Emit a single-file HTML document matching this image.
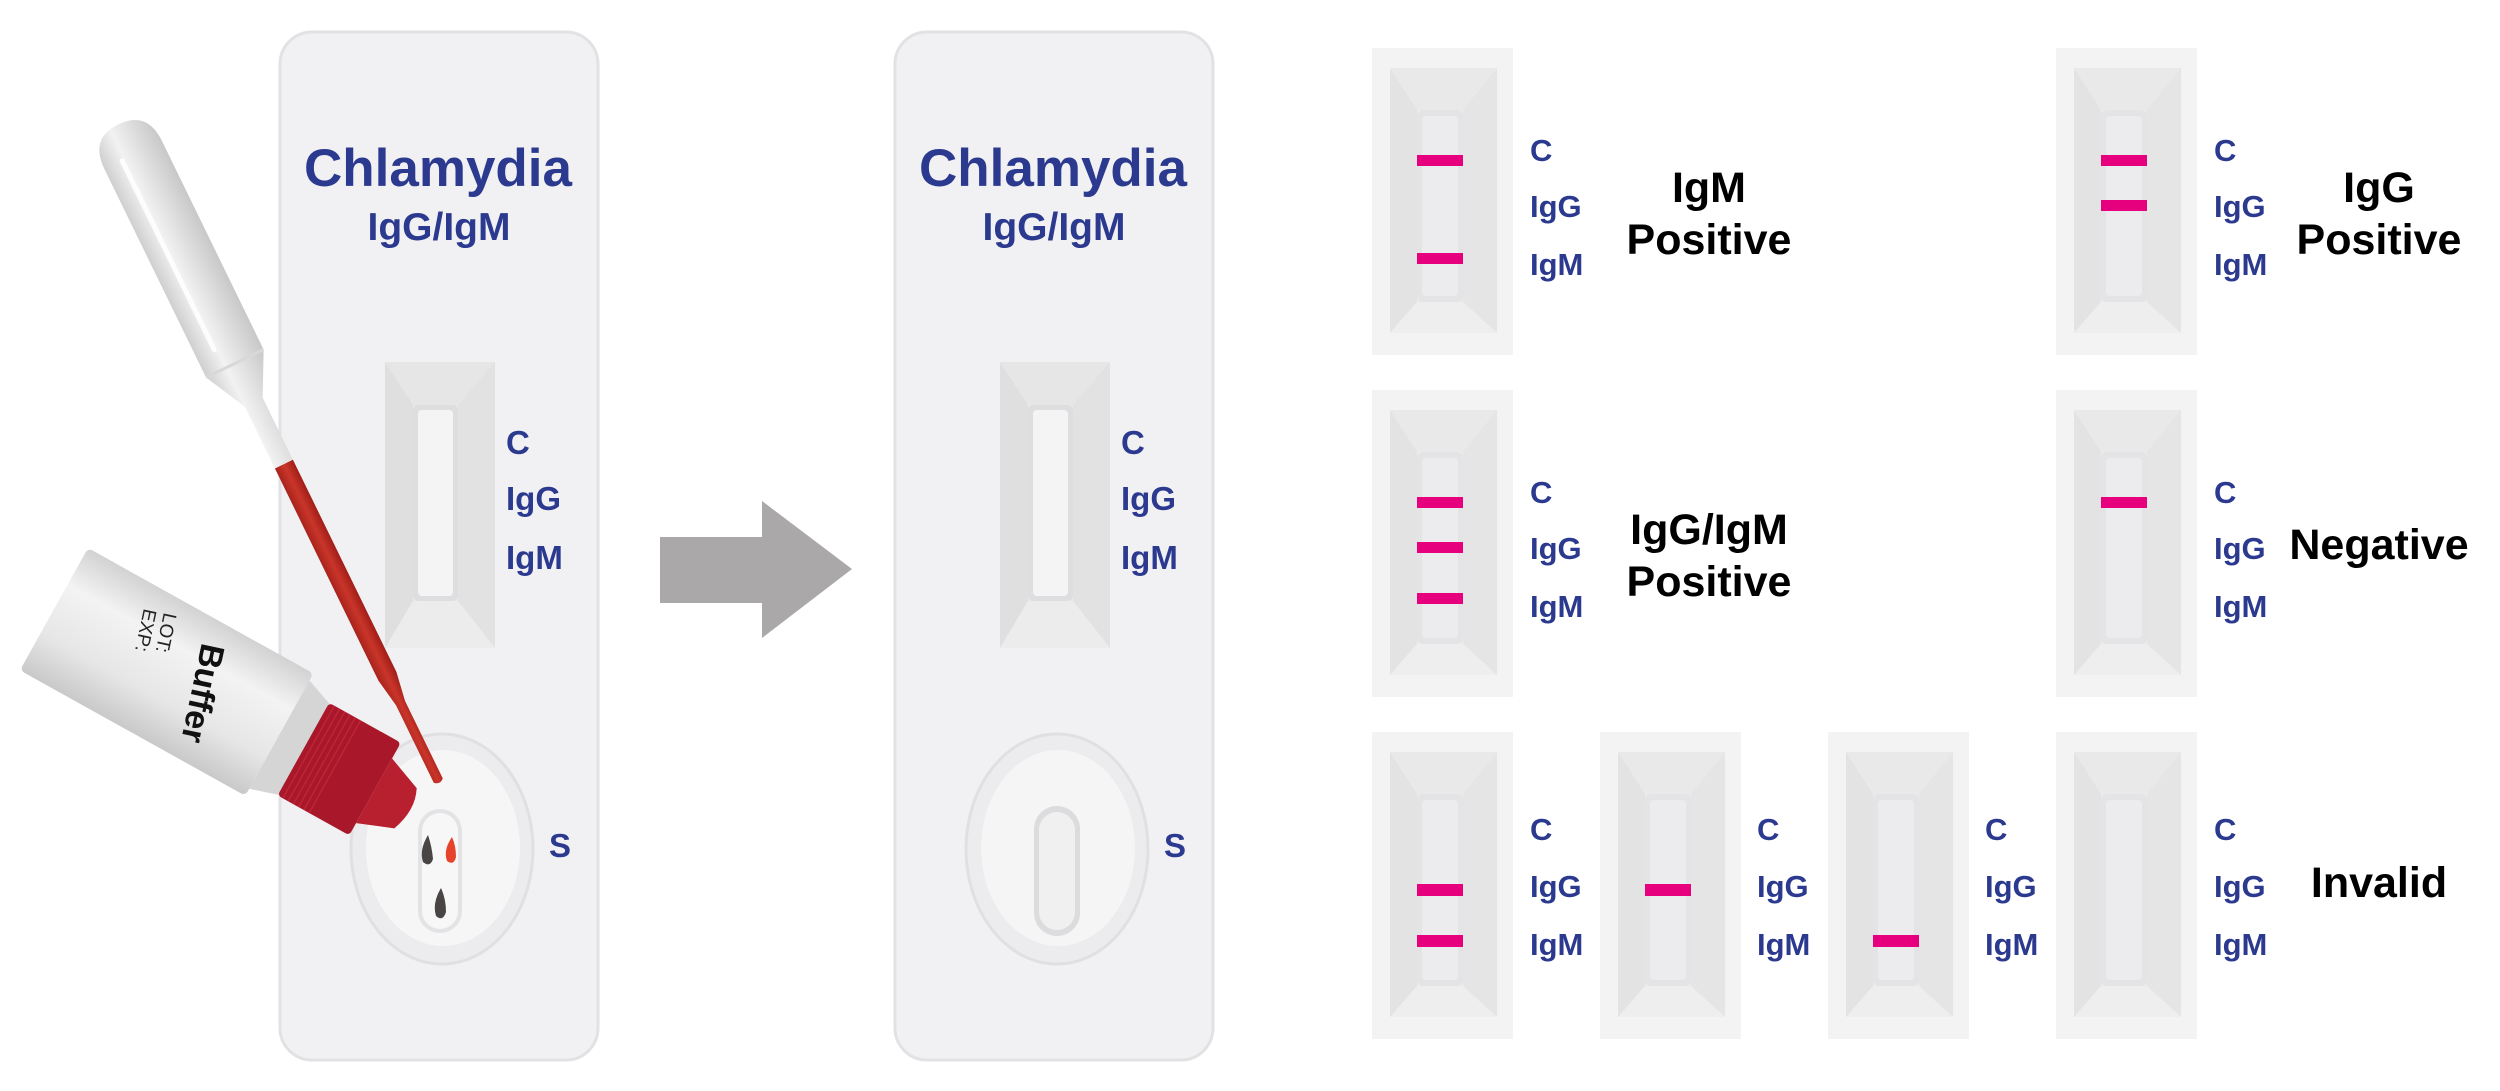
<!DOCTYPE html>
<html><head><meta charset="utf-8"><style>
html,body{margin:0;padding:0;background:#fff;}
svg{display:block;}
text{font-family:"Liberation Sans",Arial,sans-serif;font-weight:bold;}
.b{fill:#2b3a8f;}
.k{fill:#000;}
</style></head><body>
<svg width="2500" height="1091" viewBox="0 0 2500 1091" xmlns="http://www.w3.org/2000/svg">
<defs>
  <symbol id="sc" overflow="visible">
    <rect x="0" y="0" width="141" height="307" fill="#f3f3f4"/>
    <rect x="18" y="20" width="107" height="265" rx="6" fill="#ebebec"/>
    <polygon points="18,20 125,20 91,62 45,62" fill="#e9e9ea"/>
    <polygon points="18,20 45,62 45,254 18,285" fill="#e3e3e4"/>
    <polygon points="125,20 91,62 91,254 125,285" fill="#e5e5e6"/>
    <polygon points="18,285 45,254 91,254 125,285" fill="#eeeeef"/>
    <rect x="45" y="62" width="46" height="192" rx="6" fill="#e4e4e6"/>
    <rect x="50" y="68" width="36" height="180" rx="4" fill="#ececee"/>
  </symbol>
  <symbol id="bw" overflow="visible">
    <rect x="0" y="0" width="110" height="286" rx="4" fill="#e9e9ea"/>
    <polygon points="0,0 110,0 73,43 28,43" fill="#e6e6e7"/>
    <polygon points="0,0 28,43 28,239 0,286" fill="#dfdfe0"/>
    <polygon points="110,0 73,43 73,239 110,286" fill="#e2e2e3"/>
    <polygon points="0,286 28,239 73,239 110,286" fill="#ececed"/>
    <rect x="28" y="43" width="45" height="196" rx="5" fill="#dedee0"/>
    <rect x="33" y="48" width="35" height="186" rx="4" fill="#f4f4f5"/>
  </symbol>
  <linearGradient id="bulb" x1="0" x2="1" y1="0" y2="0">
    <stop offset="0" stop-color="#cfcfd0"/><stop offset="0.35" stop-color="#f2f2f2"/><stop offset="1" stop-color="#c8c8c9"/>
  </linearGradient>
  <linearGradient id="red" x1="0" x2="1" y1="0" y2="0">
    <stop offset="0" stop-color="#a8231c"/><stop offset="0.5" stop-color="#c9352a"/><stop offset="1" stop-color="#a01e18"/>
  </linearGradient>
  <linearGradient id="bot" x1="0" x2="0" y1="0" y2="1">
    <stop offset="0" stop-color="#d2d2d3"/><stop offset="0.3" stop-color="#f3f3f3"/><stop offset="0.7" stop-color="#e6e6e6"/><stop offset="1" stop-color="#c9c9ca"/>
  </linearGradient>
</defs>

<!-- Cassette 1 -->
<rect x="280" y="32" width="318" height="1028" rx="32" fill="#f1f1f3" stroke="#e2e2e5" stroke-width="3"/>
<text class="b" x="438" y="186" font-size="53" text-anchor="middle">Chlamydia</text>
<text class="b" x="439" y="240" font-size="39" text-anchor="middle">IgG/IgM</text>
<use href="#bw" x="385" y="362"/>
<text class="b" x="506" y="454" font-size="33">C</text>
<text class="b" x="506" y="510" font-size="33">IgG</text>
<text class="b" x="506" y="569" font-size="33">IgM</text>
<ellipse cx="442" cy="849" rx="91" ry="115" fill="#ececee" stroke="#e0e0e3" stroke-width="3"/>
<ellipse cx="443" cy="848" rx="77" ry="98" fill="#f6f6f7"/>
<rect x="418" y="809" width="44" height="124" rx="22" fill="#e3e3e5"/>
<rect x="422" y="813" width="36" height="116" rx="18" fill="#f7f7f8"/>
<path d="M428,835 q-9,15 -5,27 q7,6 10,-3 q-1,-12 -5,-24z" fill="#4a4545"/>
<path d="M452,837 q-9,13 -5,24 q7,5 9,-4 q0,-11 -4,-20z" fill="#e5432c"/>
<path d="M441,888 q-9,15 -5,28 q7,6 10,-4 q0,-13 -5,-24z" fill="#4a4545"/>
<text class="b" x="549" y="857" font-size="33">S</text>

<!-- Arrow -->
<polygon points="660,537 762,537 762,501 852,569 762,638 762,603 660,603" fill="#aaa8a8"/>

<!-- Cassette 2 -->
<rect x="895" y="32" width="318" height="1028" rx="32" fill="#f1f1f3" stroke="#e2e2e5" stroke-width="3"/>
<text class="b" x="1053" y="186" font-size="53" text-anchor="middle">Chlamydia</text>
<text class="b" x="1054" y="240" font-size="39" text-anchor="middle">IgG/IgM</text>
<use href="#bw" x="1000" y="362"/>
<text class="b" x="1121" y="454" font-size="33">C</text>
<text class="b" x="1121" y="510" font-size="33">IgG</text>
<text class="b" x="1121" y="569" font-size="33">IgM</text>
<ellipse cx="1057" cy="849" rx="91" ry="115" fill="#ececee" stroke="#e0e0e3" stroke-width="3"/>
<ellipse cx="1058" cy="848" rx="77" ry="98" fill="#f5f5f6"/>
<rect x="1034" y="806" width="46" height="130" rx="23" fill="#dcdcde"/>
<rect x="1039" y="812" width="36" height="118" rx="18" fill="#f0f0f1"/>
<text class="b" x="1164" y="857" font-size="33">S</text>

<!-- Dropper -->
<g transform="translate(120,128) rotate(-26)">
  <path d="M-32,30 Q-32,-4 0,-4 Q32,-4 32,30 L32,262 L10,305 L10,374 L-10,374 L-10,305 L-32,262 Z" fill="url(#bulb)"/>
  <path d="M-32,262 L32,262" stroke="#d8d8d8" stroke-width="3"/>
  <rect x="-15" y="28" width="5" height="215" rx="2.5" fill="#ffffff" opacity="0.85"/>
  <path d="M-10,374 L10,374 L10,610 L5,640 L5,726 Q0,731 -5,726 L-5,640 L-10,610 Z" fill="url(#red)"/>
</g>

<!-- Bottle -->
<g transform="translate(88,548) rotate(29.1)">
  <rect x="0" y="0" width="258" height="140" rx="5" fill="url(#bot)"/>
  <path d="M258,8 L290,20 L290,122 L258,132 Z" fill="#d5d5d6"/>
  <rect x="286" y="18" width="82" height="106" rx="4" fill="#a9182a"/>
  <g stroke="#c62a3e" stroke-width="1.5" opacity="0.7">
    <line x1="292" y1="18" x2="292" y2="124"/><line x1="298" y1="18" x2="298" y2="124"/><line x1="304" y1="18" x2="304" y2="124"/><line x1="310" y1="18" x2="310" y2="124"/><line x1="316" y1="18" x2="316" y2="124"/><line x1="322" y1="18" x2="322" y2="124"/>
  </g>
  <path d="M368,36 L404,50 Q414,70 404,96 L368,110 Z" fill="#b81f2f"/>
</g>
<text x="0" y="0" font-size="34" fill="#111" transform="translate(202,642) rotate(102)">Buffer</text>
<text x="0" y="0" font-size="19" fill="#222" transform="translate(164,612) rotate(102)" style="font-weight:normal">LOT:</text>
<text x="0" y="0" font-size="19" fill="#222" transform="translate(144,608) rotate(102)" style="font-weight:normal">EXP:</text>

<!-- Small cassettes -->
<use href="#sc" x="1372" y="48"/>
<rect x="1417" y="155" width="46" height="11" fill="#e6007e"/>
<rect x="1417" y="253" width="46" height="11" fill="#e6007e"/>
<text class="b" x="1530" y="161" font-size="31">C</text>
<text class="b" x="1530" y="217" font-size="31">IgG</text>
<text class="b" x="1530" y="275" font-size="31">IgM</text>
<text class="k" x="1709" y="202" font-size="43" text-anchor="middle">IgM</text>
<text class="k" x="1709" y="254" font-size="43" text-anchor="middle">Positive</text>

<use href="#sc" x="2056" y="48"/>
<rect x="2101" y="155" width="46" height="11" fill="#e6007e"/>
<rect x="2101" y="200" width="46" height="11" fill="#e6007e"/>
<text class="b" x="2214" y="161" font-size="31">C</text>
<text class="b" x="2214" y="217" font-size="31">IgG</text>
<text class="b" x="2214" y="275" font-size="31">IgM</text>
<text class="k" x="2379" y="202" font-size="43" text-anchor="middle">IgG</text>
<text class="k" x="2379" y="254" font-size="43" text-anchor="middle">Positive</text>

<use href="#sc" x="1372" y="390"/>
<rect x="1417" y="497" width="46" height="11" fill="#e6007e"/>
<rect x="1417" y="542" width="46" height="11" fill="#e6007e"/>
<rect x="1417" y="593" width="46" height="11" fill="#e6007e"/>
<text class="b" x="1530" y="503" font-size="31">C</text>
<text class="b" x="1530" y="559" font-size="31">IgG</text>
<text class="b" x="1530" y="617" font-size="31">IgM</text>
<text class="k" x="1709" y="544" font-size="43" text-anchor="middle">IgG/IgM</text>
<text class="k" x="1709" y="596" font-size="43" text-anchor="middle">Positive</text>

<use href="#sc" x="2056" y="390"/>
<rect x="2101" y="497" width="46" height="11" fill="#e6007e"/>
<text class="b" x="2214" y="503" font-size="31">C</text>
<text class="b" x="2214" y="559" font-size="31">IgG</text>
<text class="b" x="2214" y="617" font-size="31">IgM</text>
<text class="k" x="2379" y="559" font-size="43" text-anchor="middle">Negative</text>

<use href="#sc" x="1372" y="732"/>
<rect x="1417" y="884" width="46" height="12" fill="#e6007e"/>
<rect x="1417" y="935" width="46" height="12" fill="#e6007e"/>
<text class="b" x="1530" y="840" font-size="31">C</text>
<text class="b" x="1530" y="897" font-size="31">IgG</text>
<text class="b" x="1530" y="955" font-size="31">IgM</text>

<use href="#sc" x="1600" y="732"/>
<rect x="1645" y="884" width="46" height="12" fill="#e6007e"/>
<text class="b" x="1757" y="840" font-size="31">C</text>
<text class="b" x="1757" y="897" font-size="31">IgG</text>
<text class="b" x="1757" y="955" font-size="31">IgM</text>

<use href="#sc" x="1828" y="732"/>
<rect x="1873" y="935" width="46" height="12" fill="#e6007e"/>
<text class="b" x="1985" y="840" font-size="31">C</text>
<text class="b" x="1985" y="897" font-size="31">IgG</text>
<text class="b" x="1985" y="955" font-size="31">IgM</text>

<use href="#sc" x="2056" y="732"/>
<text class="b" x="2214" y="840" font-size="31">C</text>
<text class="b" x="2214" y="897" font-size="31">IgG</text>
<text class="b" x="2214" y="955" font-size="31">IgM</text>
<text class="k" x="2379" y="897" font-size="43" text-anchor="middle">Invalid</text>
</svg>
</body></html>
